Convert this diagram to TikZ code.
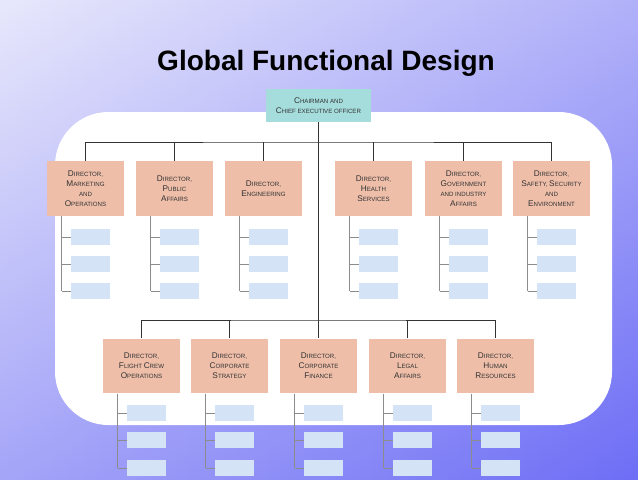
\documentclass[tikz,border=0pt]{standalone}
\usepackage{fontspec}
\setmainfont{Liberation Sans}
\newcommand{\C}[2]{{\fontsize{6.2}{7.5}\selectfont #1}{\fontsize{4.6}{7.5}\selectfont\MakeUppercase{#2}}}
\begin{document}
\begin{tikzpicture}[x=0.75pt,y=-0.75pt,
  dirbox/.style={fill=salmonc,minimum width=57.75pt,minimum height=41pt,inner sep=1pt,align=center,font=\fontsize{5}{7.5}\selectfont,text=black!80},
  subbox/.style={fill=subc,minimum width=29pt,minimum height=12pt,inner sep=0pt},
  tree/.style={draw=black!80,line width=0.6pt},
  subline/.style={draw=black!45,line width=0.6pt}]
\definecolor{salmonc}{HTML}{EEBEA9}
\definecolor{subc}{HTML}{D4E4F6}
\definecolor{topc}{HTML}{A5DCDC}
\definecolor{bgtop}{HTML}{E8E8FC}
\definecolor{bgbot}{HTML}{6E6EF6}
\useasboundingbox (0,0) rectangle (638,479);
\shade[top color=bgtop,bottom color=bgbot] (0,0) rectangle (638,479);
\shade[left color=bgtop,right color=bgbot,opacity=0.45] (0,0) rectangle (638,479);
\fill[white,rounded corners=40pt] (55,112) rectangle (612,425);
\node[font=\bfseries\fontsize{21}{24}\selectfont] (title) at (326,63) {Global Functional Design};
\node[fill=topc,minimum width=78.75pt,minimum height=24.75pt,inner sep=1pt,align=center,font=\fontsize{5}{7}\selectfont,text=black!80] (ceo) at (318.5,105.5) {\C{C}{hairman and}\\\C{C}{hief Executive Officer}};
% row 1
\foreach \n/\cx/\t in {a/85.5/{\C{D}{irector,}\\\C{M}{arketing}\\\C{}{and}\\\C{O}{perations}},
  b/174.5/{\C{D}{irector,}\\\C{P}{ublic}\\\C{A}{ffairs}},
  c/263.5/{\C{D}{irector,}\\\C{E}{ngineering}},
  d/373.5/{\C{D}{irector,}\\\C{H}{ealth}\\\C{S}{ervices}},
  e/463.5/{\C{D}{irector,}\\\C{G}{overnment}\\\C{}{and Industry}\\\C{A}{ffairs}},
  f/551.5/{\C{D}{irector,}\\\C{S}{afety, }\C{S}{ecurity}\\\C{}{and}\\\C{E}{nvironment}}}{
  \node[dirbox] (\n) at (\cx,188.5) {\t};
  \coordinate (\n v) at ([xshift=11.25pt]\n.south west);
  \foreach \k/\yy in {1/237,2/264,3/291}{
    \node[subbox] (\n s\k) at (\cx+5,\yy) {};
    \draw[subline] (\n v |- \n s\k) -- (\n s\k.west);
  }
  \draw[subline] (\n v) -- (\n v |- \n s3);
}
\coordinate (h1) at (318.5,142);
\draw[tree] (a.north) |- (h1) -| (f.north);
\foreach \n in {b,c,d,e}{\draw[tree] (\n.north) -- (\n.north |- h1);}
% row 2
\foreach \n/\cx/\t in {g/141.5/{\C{D}{irector,}\\\C{F}{light }\C{C}{rew}\\\C{O}{perations}},
  h/229.5/{\C{D}{irector,}\\\C{C}{orporate}\\\C{S}{trategy}},
  i/318.5/{\C{D}{irector,}\\\C{C}{orporate}\\\C{F}{inance}},
  j/407.5/{\C{D}{irector,}\\\C{L}{egal}\\\C{A}{ffairs}},
  k/495.5/{\C{D}{irector,}\\\C{H}{uman}\\\C{R}{esources}}}{
  \node[dirbox] (\n) at (\cx,366) {\t};
  \coordinate (\n v) at ([xshift=11.25pt]\n.south west);
  \foreach \k/\yy in {1/413,2/440,3/468}{
    \node[subbox] (\n s\k) at (\cx+5,\yy) {};
    \draw[subline] (\n v |- \n s\k) -- (\n s\k.west);
  }
  \draw[subline] (\n v) -- (\n v |- \n s3);
}
\coordinate (h2) at (318.5,320);
\draw[tree] (ceo.south) -- (i.north);
\draw[tree] (g.north) |- (h2) -| (k.north);
\foreach \n in {h,j}{\draw[tree] (\n.north) -- (\n.north |- h2);}
\end{tikzpicture}
\end{document}
